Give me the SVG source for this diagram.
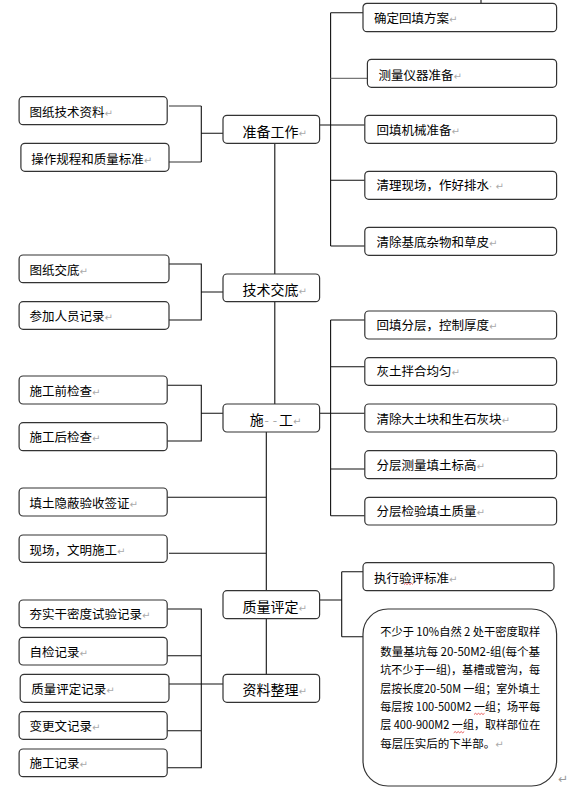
<svg xmlns="http://www.w3.org/2000/svg" width="576" height="803" viewBox="0 0 576 803">
<style>
.b{fill:#fff;stroke:#333;stroke-width:1.2}
.t{font-family:"Noto Sans CJK SC","Noto Sans",sans-serif;font-size:12.5px;fill:#000}
.c{font-family:"Noto Sans CJK SC","Noto Sans",sans-serif;font-size:14px;fill:#000}
.s{font-family:"Noto Sans CJK SC","Noto Sans",sans-serif;font-size:11.5px;fill:#000}
.m{fill:#aaa;font-size:10px;font-family:"DejaVu Sans",sans-serif}
.k{fill:none;stroke:#111;stroke-width:1.1}
.g{fill:none;stroke:#777;stroke-width:1.3}
.w{fill:none;stroke:#d33;stroke-width:0.8}
</style>
<rect width="576" height="803" fill="#fff"/>
<g id="connectors">
<path class="k" d="M481 0V3.3"/>
<path class="k" d="M330.6 12.7H363M330.6 12.7V246M330.6 125H364.8M319.6 125H330.6M330.6 180.3H364.8M330.6 246H364.8"/>
<path class="g" d="M330.6 78.3H367.4"/>
<path class="g" d="M169 106H201.3M169 162H201.3"/>
<path class="k" d="M201.3 106V162M201.3 133.3H223"/>
<path class="k" d="M274.8 143.3V274M274.8 301.7V404"/>
<path class="k" d="M169 264H201.3V320H169M201.3 292H223"/>
<path class="k" d="M330.6 320V515.7M330.6 320H364.8M330.6 366.7H364.8M330.6 413.3H364.8M330.6 469H364.8M330.6 515.7H364.8M319.6 413.3H330.6"/>
<path class="k" d="M167.2 385.3H201.3V441H167.2M201.3 413.3H223"/>
<path class="k" d="M266.3 432V590.7M167.2 497.3H266.3M169 553.3H266.3M266.3 618.7V674.3"/>
<path class="k" d="M319.6 600H341.7M341.7 571.7V636.7M341.7 571.7H363M341.7 636.7H363"/>
<path class="k" d="M167.2 609H201.3V767.7H167.2M167.2 655.7H201.3M167.2 730.7H201.3M169 684H223"/>
</g>
<g id="n-zbgz"><rect class="b" x="223" y="115.3" width="96.6" height="28" rx="4"/><text class="c" x="242.5" y="137">准备工作<tspan class="m">↵</tspan></text></g>
<g id="n-jsjd"><rect class="b" x="223" y="274" width="96.6" height="27.7" rx="4"/><text class="c" x="242.5" y="294.6">技术交底<tspan class="m">↵</tspan></text></g>
<g id="n-sg"><rect class="b" x="223" y="404" width="96.6" height="28" rx="4"/><text class="c" y="425.3"><tspan x="249.8">施</tspan><tspan class="m" x="264.5" style="font-size:12px">- -</tspan><tspan x="279">工</tspan><tspan class="m">↵</tspan></text></g>
<g id="n-zlpd"><rect class="b" x="223" y="590.7" width="96.6" height="28" rx="4"/><text class="c" x="242.5" y="612">质量评定<tspan class="m">↵</tspan></text></g>
<g id="n-zlzl"><rect class="b" x="223" y="674.3" width="96.6" height="28" rx="4"/><text class="c" x="242.5" y="694.6">资料整理<tspan class="m">↵</tspan></text></g>

<g id="n-r1"><rect class="b" x="363" y="3.3" width="193.6" height="28.4" rx="4"/><text class="t" x="374" y="23">确定回填方案<tspan class="m">↵</tspan></text></g>
<g id="n-r2"><rect class="b" x="367.4" y="59.3" width="189.2" height="28" rx="4"/><text class="t" x="378.4" y="79.7">测量仪器准备<tspan class="m">↵</tspan></text></g>
<g id="n-r3"><rect class="b" x="364.8" y="115.3" width="191.8" height="28" rx="4"/><text class="t" x="376.6" y="135.4">回填机械准备<tspan class="m">↵</tspan></text></g>
<g id="n-r4"><rect class="b" x="364.8" y="171.3" width="191.8" height="28" rx="4"/><text class="t" x="376.6" y="189.7">清理现场，作好排水<tspan class="m">· ↵</tspan></text></g>
<g id="n-r5"><rect class="b" x="364.8" y="227.3" width="191.8" height="28" rx="4"/><text class="t" x="376.6" y="247">清除基底杂物和草皮<tspan class="m">↵</tspan></text></g>
<g id="n-r6"><rect class="b" x="364.8" y="311" width="191.8" height="28" rx="4"/><text class="t" x="376.6" y="329.7">回填分层，控制厚度<tspan class="m">↵</tspan></text></g>
<g id="n-r7"><rect class="b" x="364.8" y="357.7" width="191.8" height="27.6" rx="4"/><text class="t" x="376.6" y="376.4">灰土拌合均匀<tspan class="m">↵</tspan></text></g>
<g id="n-r8"><rect class="b" x="364.8" y="404" width="191.8" height="28" rx="4"/><text class="t" x="376.6" y="424">清除大土块和生石灰块<tspan class="m">↵</tspan></text></g>
<g id="n-r9"><rect class="b" x="364.8" y="450.7" width="191.8" height="28" rx="4"/><text class="t" x="376.6" y="469.7">分层测量填土标高<tspan class="m">↵</tspan></text></g>
<g id="n-r10"><rect class="b" x="364.8" y="497.3" width="191.8" height="27.7" rx="4"/><text class="t" x="376.6" y="516.4">分层检验填土质量<tspan class="m">↵</tspan></text></g>
<g id="n-r11"><rect class="b" x="363" y="562.7" width="191" height="28" rx="4"/><text class="t" x="374" y="583">执行验评标准<tspan class="m">↵</tspan></text><path class="w" d="M404 584.5l1.5 -1.2l1.5 1.2l1.5 -1.2l1.5 1.2l1.5 -1.2l1.5 1.2"/></g>
<g id="n-r12"><rect class="b" x="363" y="609" width="193.6" height="177" rx="25"/>
<text class="s" x="380.2" y="636" textLength="160" lengthAdjust="spacingAndGlyphs">不少于 10%自然 2 处干密度取样</text>
<text class="s" x="380.2" y="656" textLength="160" lengthAdjust="spacingAndGlyphs">数量基坑每 20-50M2-组(每个基</text>
<text class="s" x="380.2" y="674.3" textLength="160" lengthAdjust="spacingAndGlyphs">坑不少于一组)，基槽或管沟，每</text>
<text class="s" x="380.2" y="692.6" textLength="160" lengthAdjust="spacingAndGlyphs">层按长度20-50M 一组；室外填土</text>
<text class="s" x="380.2" y="711" textLength="160" lengthAdjust="spacingAndGlyphs">每层按 100-500M2 一组；场平每</text>
<text class="s" x="380.2" y="729.3" textLength="160" lengthAdjust="spacingAndGlyphs">层 400-900M2 一组，取样部位在</text>
<text class="s" x="380.2" y="747.6">每层压实后的下半部。<tspan class="m">↵</tspan></text>
<path class="w" d="M474 714.5l1.5 -1.2l1.5 1.2l1.5 -1.2l1.5 1.2l1.5 -1.2l1.5 1.2l1.5 -1.2"/>
<path class="w" d="M453.7 732.8l1.5 -1.2l1.5 1.2l1.5 -1.2l1.5 1.2l1.5 -1.2l1.5 1.2l1.5 -1.2"/>
</g>
<text x="558" y="783" style="fill:#999;font-size:12px;font-family:'DejaVu Sans',sans-serif">↵</text>

<g id="n-l1"><rect class="b" x="19.1" y="96.7" width="148.1" height="28" rx="4"/><text class="t" x="29.4" y="116.5">图纸技术资料<tspan class="m">↵</tspan></text></g>
<g id="n-l2"><rect class="b" x="20.9" y="143.3" width="148.1" height="28" rx="4"/><text class="t" x="31.2" y="164">操作规程和质量标准<tspan class="m">↵</tspan></text></g>
<g id="n-l3"><rect class="b" x="19.1" y="255" width="149.9" height="27.7" rx="4"/><text class="t" x="29.4" y="274.7">图纸交底<tspan class="m">↵</tspan></text></g>
<g id="n-l4"><rect class="b" x="19.1" y="301.7" width="149.9" height="27.6" rx="4"/><text class="t" x="29.4" y="321.4">参加人员记录<tspan class="m">↵</tspan></text></g>
<g id="n-l5"><rect class="b" x="19.1" y="376" width="148.1" height="28" rx="4"/><text class="t" x="29.4" y="395.7">施工前检查<tspan class="m">↵</tspan></text></g>
<g id="n-l6"><rect class="b" x="19.1" y="422.7" width="148.1" height="28" rx="4"/><text class="t" x="29.4" y="442">施工后检查<tspan class="m">↵</tspan></text></g>
<g id="n-l7"><rect class="b" x="19.1" y="488" width="148.1" height="28" rx="4"/><text class="t" x="29.4" y="508">填土隐蔽验收签证<tspan class="m">↵</tspan></text></g>
<g id="n-l8"><rect class="b" x="19.1" y="535" width="148.1" height="27.3" rx="4"/><text class="t" x="29.4" y="554.7">现场，文明施工<tspan class="m">↵</tspan></text></g>
<g id="n-l9"><rect class="b" x="19.1" y="600" width="148.1" height="27.7" rx="4"/><text class="t" x="29.4" y="618.7">夯实干密度试验记录<tspan class="m">↵</tspan></text></g>
<g id="n-l10"><rect class="b" x="19.1" y="637.3" width="148.1" height="27.7" rx="4"/><text class="t" x="29.4" y="657">自检记录<tspan class="m">↵</tspan></text></g>
<g id="n-l11"><rect class="b" x="20.2" y="674.3" width="148.8" height="28" rx="4"/><text class="t" x="31.2" y="693.7">质量评定记录<tspan class="m">↵</tspan></text></g>
<g id="n-l12"><rect class="b" x="19.1" y="711.7" width="148.1" height="27.6" rx="4"/><text class="t" x="29.4" y="731.4">变更文记录<tspan class="m">↵</tspan></text></g>
<g id="n-l13"><rect class="b" x="19.1" y="749" width="148.1" height="27.7" rx="4"/><text class="t" x="29.4" y="768">施工记录<tspan class="m">↵</tspan></text></g>
</svg>
